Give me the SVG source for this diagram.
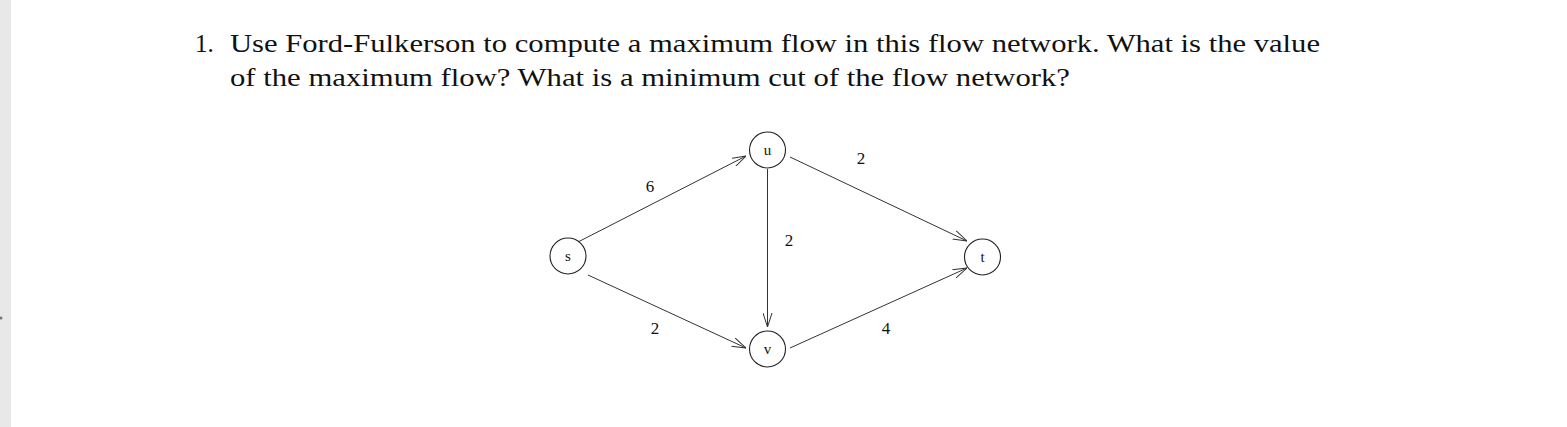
<svg xmlns="http://www.w3.org/2000/svg" width="1567" height="427" viewBox="0 0 1567 427">
<style>
.q{font-family:"Liberation Serif",serif;font-size:25px;fill:#111}
.n{fill:#fff;stroke:#222;stroke-width:1.1}
.nl{font-family:"Liberation Serif",serif;font-size:15px;fill:#111;text-anchor:middle}
.el{font-family:"Liberation Serif",serif;font-size:17px;fill:#111;text-anchor:middle}
.e{stroke:#333;stroke-width:1;fill:none;marker-end:url(#a)}
</style>
<defs><marker id="a" viewBox="0 0 14 10" refX="14" refY="5" markerWidth="14" markerHeight="10" markerUnits="userSpaceOnUse" orient="auto"><path d="M0,0.5 L14,5 L0,9.5" fill="none" stroke="#333" stroke-width="1"/></marker></defs>
<rect width="1567" height="427" fill="#fff"/>
<rect width="11" height="427" fill="#e8e8e8"/>
<circle cx="1" cy="318" r="1.5" fill="#777"/>
<text class="q" x="195" y="52">1.</text>
<text class="q" x="230" y="52" textLength="1090" lengthAdjust="spacingAndGlyphs">Use Ford-Fulkerson to compute a maximum flow in this flow network. What is the value</text>
<text class="q" x="230" y="86" textLength="840" lengthAdjust="spacingAndGlyphs">of the maximum flow? What is a minimum cut of the flow network?</text>
<g id="connectors">
<line class="e" x1="578" y1="242" x2="746" y2="156"/>
<line class="e" x1="790" y1="157" x2="967" y2="241"/>
<line class="e" x1="767.5" y1="169" x2="767.5" y2="327"/>
<line class="e" x1="588" y1="275" x2="746" y2="348"/>
<line class="e" x1="790" y1="348" x2="967" y2="268"/>
<text class="el" x="650" y="192">6</text>
<text class="el" x="861" y="164">2</text>
<text class="el" x="789" y="246">2</text>
<text class="el" x="655" y="334">2</text>
<text class="el" x="886" y="334">4</text>
</g>
<g id="node-u"><circle class="n" cx="767.5" cy="150" r="18"/><text class="nl" x="767.5" y="155">u</text></g>
<g id="node-s"><circle class="n" cx="568" cy="256" r="18"/><text class="nl" x="568" y="261">s</text></g>
<g id="node-t"><circle class="n" cx="982.5" cy="257" r="18"/><text class="nl" x="982.5" y="262">t</text></g>
<g id="node-v"><circle class="n" cx="767.5" cy="349" r="18"/><text class="nl" x="767.5" y="354">v</text></g>
</svg>
